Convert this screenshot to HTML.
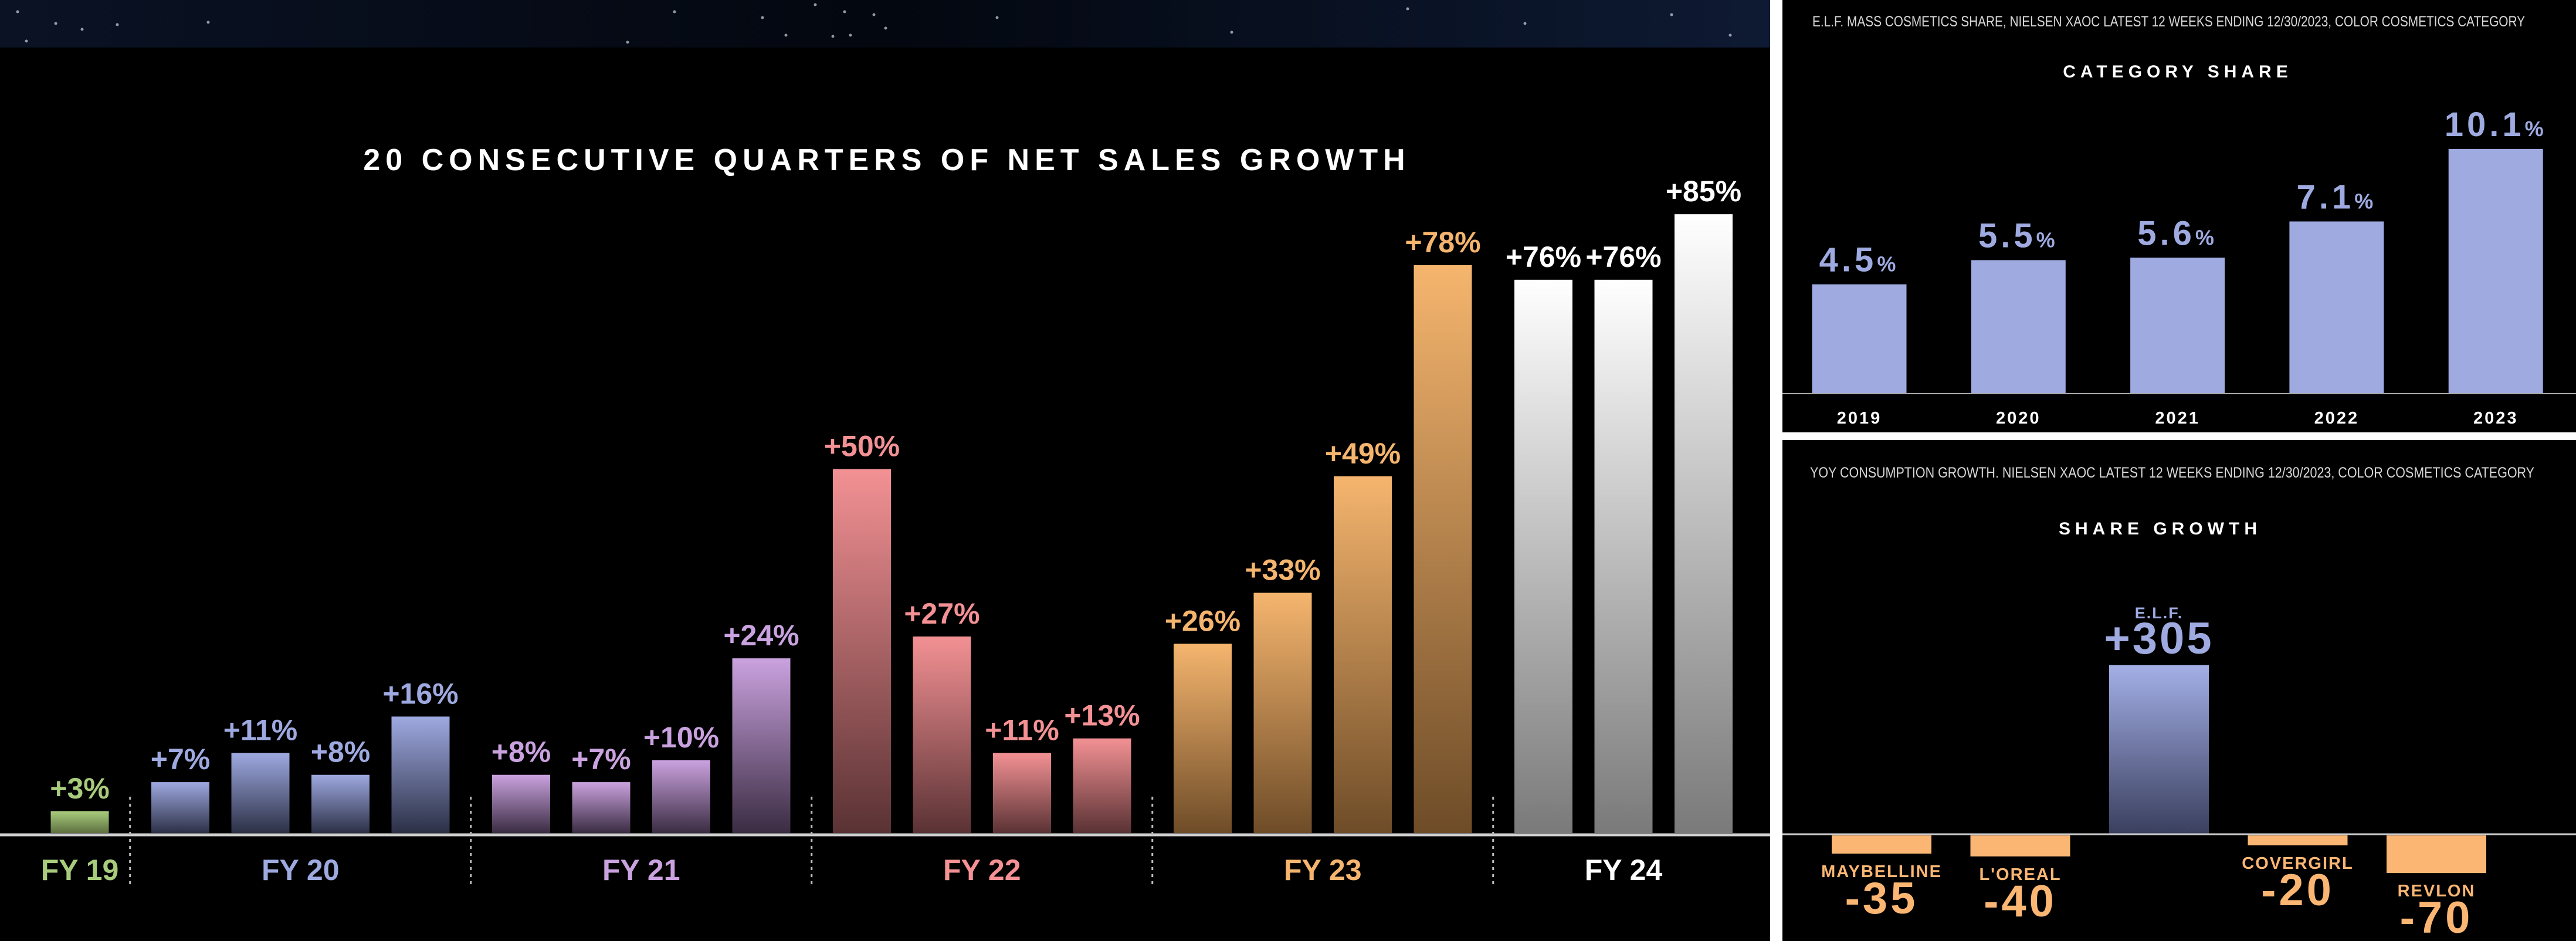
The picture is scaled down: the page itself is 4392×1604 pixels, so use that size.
<!DOCTYPE html>
<html><head><meta charset="utf-8"><style>
html,body{margin:0;padding:0;background:#000}
svg{display:block;font-family:"Liberation Sans",sans-serif;font-weight:bold}
</style></head><body>
<svg id="s" width="4392" height="1604" viewBox="0 0 4392 1604" xmlns="http://www.w3.org/2000/svg">
<defs>
<linearGradient id="band" x1="0" y1="0" x2="1" y2="0"><stop offset="0" stop-color="#0a1224"/><stop offset="0.5" stop-color="#03070f"/><stop offset="1" stop-color="#0e1a33"/></linearGradient>
<linearGradient id="gElf" x1="0" y1="0" x2="0" y2="1"><stop offset="0" stop-color="#a3afe6"/><stop offset="1" stop-color="#3a3f5e"/></linearGradient>
</defs>
<rect x="0" y="0" width="4392" height="1604" fill="#000"/>
<rect x="0" y="0" width="3018" height="81" fill="url(#band)"/>
<g id="stars"></g>
<rect x="3018" y="0" width="21" height="1604" fill="#fff"/>
<rect x="3039" y="737" width="1353" height="13" fill="#fff"/>
<text x="1512" y="290" fill="#fff" font-size="52" text-anchor="middle" letter-spacing="9">20 CONSECUTIVE QUARTERS OF NET SALES GROWTH</text>
<g id="main"></g>
<g id="share"></g>
<g id="growth"></g>
</svg>
<script>
// Main chart data
const quarterValues = [3, 7, 11, 8, 16, 8, 7, 10, 24, 50, 27, 11, 13, 26, 33, 49, 78, 76, 76, 85];
const quarterLabels = ["+3%","+7%","+11%","+8%","+16%","+8%","+7%","+10%","+24%","+50%","+27%","+11%","+13%","+26%","+33%","+49%","+78%","+76%","+76%","+85%"];
const quarterYear = [0,1,1,1,1,2,2,2,2,3,3,3,3,4,4,4,4,5,5,5];
const fiscalYears = ["FY 19","FY 20","FY 21","FY 22","FY 23","FY 24"];
// Category share data
const shareYears = ["2019","2020","2021","2022","2023"];
const shareValues = [4.5, 5.5, 5.6, 7.1, 10.1];
// Share growth data
const brands = ["MAYBELLINE","L'OREAL","E.L.F.","COVERGIRL","REVLON"];
const brandValues = [-35, -40, 305, -20, -70];
const brandLabels = ["-35","-40","+305","-20","-70"];

const NS = "http://www.w3.org/2000/svg";
function mk(tag, attrs, parent, txt){const e=document.createElementNS(NS,tag);for(const k in attrs)e.setAttribute(k,attrs[k]);if(txt!==undefined)e.textContent=txt;parent.appendChild(e);return e;}
const svg=document.getElementById('s'), defs=svg.querySelector('defs');

// stars
const st=document.getElementById('stars');
[[30,20],[45,70],[95,40],[140,50],[200,42],[355,38],[1070,72],[1150,20],[1300,30],[1340,60],[1390,8],[1420,62],[1440,20],[1450,60],[1490,25],[1510,48],[1700,30],[2100,55],[2400,15],[2600,40],[2850,25],[2950,60]].forEach(p=>{
 const c=mk('circle',{cx:p[0],cy:p[1],r:2.5,fill:'#cfd6e8',opacity:0.7},st);
 
 
});

// main chart
const main=document.getElementById('main');
const yearColors=[["#a9cc7c","#5d7040"],["#9ea9e0","#2c3046"],["#caa2df","#3a2c42"],["#f39194","#5a3234"],["#f5b56e","#6e4c28"],["#ffffff","#7a7a7a"]];
yearColors.forEach((c,i)=>{const g=mk('linearGradient',{id:'gy'+i,x1:0,y1:0,x2:0,y2:1},defs);mk('stop',{offset:0,'stop-color':c[0]},g);mk('stop',{offset:1,'stop-color':c[1]},g);});
const base=1420, pxPer=12.41, barW=99;
function qx(i){return 136 + i*136.5 + quarterYear[i]*35;}
function yv(v){return base - v*pxPer;}
const centers=quarterValues.map((v,i)=>qx(i));
quarterValues.forEach((v,i)=>{
 const cx=centers[i], y=yv(v);
 const r=mk('rect',{x:cx-barW/2,y:y,width:barW,height:base-y,fill:'url(#gy'+quarterYear[i]+')'},main);
 
 
 const t=mk('text',{x:cx,y:y-22,'text-anchor':'middle','font-size':50,fill:yearColors[quarterYear[i]][0]},main,quarterLabels[i]);
 
 
});
const ax=mk('line',{x1:0,y1:base+3,x2:3018,y2:base+3,stroke:'#d0d0d0','stroke-width':5},main);


fiscalYears.forEach((fy,k)=>{
 const idx=quarterYear.map((q,i)=>q===k?i:-1).filter(i=>i>=0);
 const first=centers[idx[0]], last=centers[idx[idx.length-1]];
 if(k>0){const sx=(centers[idx[0]-1]+first)/2;
  const l=mk('line',{x1:sx,y1:1358,x2:sx,y2:1514,stroke:'#bbb','stroke-width':3,'stroke-dasharray':'5 7'},main);
  
  }
 const t=mk('text',{x:(first+last)/2,y:1500,'text-anchor':'middle','font-size':50,fill:yearColors[k][0]},main,fy);
 
 
});

// category share
const sh=document.getElementById('share');
const sBase=670, sPer=41.2, sW=161;
function sx(i){return 3170 + i*271.3;}
let t1=mk('text',{x:3090,y:45,'font-size':25,fill:'#d8d8d8','font-weight':'normal',textLength:1215,lengthAdjust:'spacingAndGlyphs'},sh,"E.L.F. MASS COSMETICS SHARE, NIELSEN XAOC LATEST 12 WEEKS ENDING 12/30/2023, COLOR COSMETICS CATEGORY");


let t2=mk('text',{x:3713,y:132,'text-anchor':'middle','font-size':30,fill:'#fff','letter-spacing':8},sh,"CATEGORY SHARE");


shareValues.forEach((v,i)=>{
 const cx=sx(i), y=sBase-v*sPer;
 const r=mk('rect',{x:cx-sW/2,y:y,width:sW,height:sBase-y,fill:'#9eaae0'},sh);
 
 
 const t=mk('text',{x:cx,y:y-22,'text-anchor':'middle','font-size':58,fill:'#9eaae0','letter-spacing':6},sh);
 
 
 mk('tspan',{},t,v.toFixed(1)); mk('tspan',{'font-size':36},t,'%');
 const yl=mk('text',{x:cx,y:722,'text-anchor':'middle','font-size':29,fill:'#fff','letter-spacing':3},sh,shareYears[i]);
 
 
});
let sl=mk('line',{x1:3039,y1:sBase+1,x2:4392,y2:sBase+1,stroke:'#aaa','stroke-width':2},sh);



// share growth
const gr=document.getElementById('growth');
const gBase=1422, gPer=0.945, gW=170;
function gx(i){return 3208 + i*236.5;}
let t3=mk('text',{x:3086,y:814,'font-size':25,fill:'#d8d8d8','font-weight':'normal',textLength:1235,lengthAdjust:'spacingAndGlyphs'},gr,"YOY CONSUMPTION GROWTH. NIELSEN XAOC LATEST 12 WEEKS ENDING 12/30/2023, COLOR COSMETICS CATEGORY");


let t4=mk('text',{x:3683,y:911,'text-anchor':'middle','font-size':30,fill:'#fff','letter-spacing':8},gr,"SHARE GROWTH");


brandValues.forEach((v,i)=>{
 const cx=gx(i);
 if(v>=0){
  const y=gBase-v*gPer;
  const r=mk('rect',{x:cx-gW/2,y:y,width:gW,height:gBase-y,fill:'url(#gElf)'},gr);
  
  
  const n=mk('text',{x:cx,y:y-80,'text-anchor':'middle','font-size':27,fill:'#9eaae0','letter-spacing':2},gr,brands[i]);
  
  
  const t=mk('text',{x:cx,y:y-20,'text-anchor':'middle','font-size':76,fill:'#9eaae0','letter-spacing':4},gr,brandLabels[i]);
  
  
 } else {
  const yb=gBase+(-v)*gPer;
  const r=mk('rect',{x:cx-gW/2,y:gBase+2,width:gW,height:yb-gBase-2,fill:'#fbb673'},gr);
  
  
  const n=mk('text',{x:cx,y:yb+40,'text-anchor':'middle','font-size':29,fill:'#fbb673','letter-spacing':2},gr,brands[i]);
  
  
  const t=mk('text',{x:cx,y:yb+102,'text-anchor':'middle','font-size':76,fill:'#fbb673','letter-spacing':5},gr,brandLabels[i]);
  
  
 }
});
let gl=mk('line',{x1:3039,y1:gBase,x2:4392,y2:gBase,stroke:'#ccc','stroke-width':3},gr);


</script>
</body></html>
